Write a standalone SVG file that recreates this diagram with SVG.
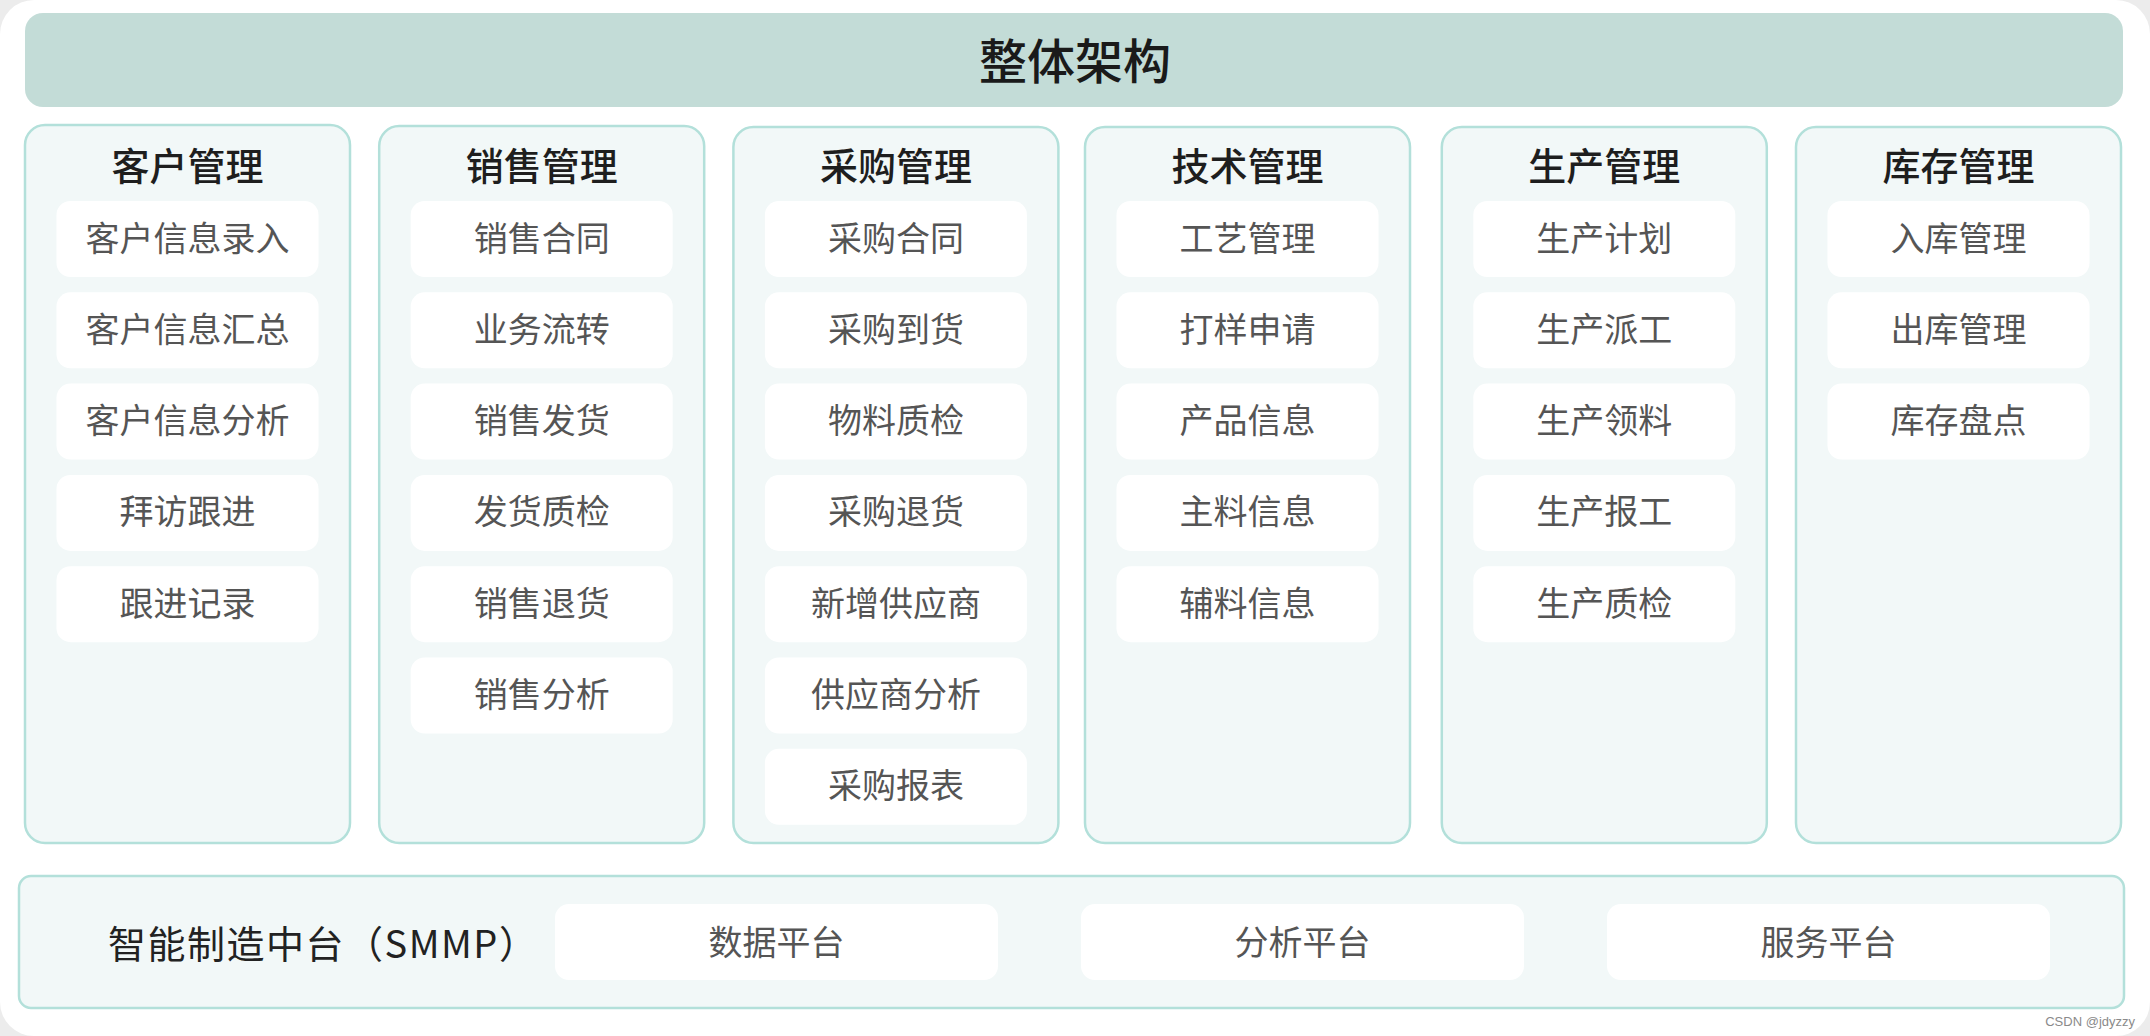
<svg xmlns="http://www.w3.org/2000/svg" width="2150" height="1036" viewBox="0 0 2150 1036">
<style>
text{font-family:"Noto Sans CJK SC","Noto Sans",sans-serif;text-anchor:middle;dominant-baseline:central}
.title{font-size:48px;font-weight:500;fill:#1a1a1a}
.panel{fill:#f2f8f8;stroke:#b3e0da;stroke-width:2.5}
.head{font-size:38px;font-weight:500;fill:#1e1e1e}
.item{fill:#ffffff}
.itxt{font-size:34px;fill:#555555}
.lbl{font-size:38px;fill:#222222;text-anchor:start;letter-spacing:1.5px}
.wm{font-family:"Liberation Sans",Arial,sans-serif;font-size:13px;fill:#8a8a8a;text-anchor:end}
</style>
<rect x="0" y="0" width="2150" height="1036" fill="#ececec"/>
<rect x="0" y="0" width="2150" height="1036" rx="34" fill="#ffffff"/>
<g id="banner">
<rect x="25" y="13" width="2098" height="94" rx="18" fill="#c3dcd7"/>
<text class="title" x="1075" y="58">整体架构</text>
</g>
<g id="connectors"></g>
<g id="customer">
<rect class="panel" x="25" y="125" width="325" height="718" rx="20"/>
<text class="head" x="187.5" y="163">客户管理</text>
<rect class="item" x="56.5" y="201" width="262" height="76" rx="14"/><text class="itxt" x="187.5" y="236">客户信息录入</text>
<rect class="item" x="56.5" y="292.3" width="262" height="76" rx="14"/><text class="itxt" x="187.5" y="327.3">客户信息汇总</text>
<rect class="item" x="56.5" y="383.6" width="262" height="76" rx="14"/><text class="itxt" x="187.5" y="418.6">客户信息分析</text>
<rect class="item" x="56.5" y="474.9" width="262" height="76" rx="14"/><text class="itxt" x="187.5" y="509.9">拜访跟进</text>
<rect class="item" x="56.5" y="566.2" width="262" height="76" rx="14"/><text class="itxt" x="187.5" y="601.2">跟进记录</text>
</g>
<g id="sales">
<rect class="panel" x="379.2" y="126" width="325" height="717" rx="20"/>
<text class="head" x="541.7" y="163">销售管理</text>
<rect class="item" x="410.7" y="201" width="262" height="76" rx="14"/><text class="itxt" x="541.7" y="236">销售合同</text>
<rect class="item" x="410.7" y="292.3" width="262" height="76" rx="14"/><text class="itxt" x="541.7" y="327.3">业务流转</text>
<rect class="item" x="410.7" y="383.6" width="262" height="76" rx="14"/><text class="itxt" x="541.7" y="418.6">销售发货</text>
<rect class="item" x="410.7" y="474.9" width="262" height="76" rx="14"/><text class="itxt" x="541.7" y="509.9">发货质检</text>
<rect class="item" x="410.7" y="566.2" width="262" height="76" rx="14"/><text class="itxt" x="541.7" y="601.2">销售退货</text>
<rect class="item" x="410.7" y="657.5" width="262" height="76" rx="14"/><text class="itxt" x="541.7" y="692.5">销售分析</text>
</g>
<g id="purchase">
<rect class="panel" x="733.4" y="127" width="325" height="716" rx="20"/>
<text class="head" x="895.9" y="163">采购管理</text>
<rect class="item" x="764.9" y="201" width="262" height="76" rx="14"/><text class="itxt" x="895.9" y="236">采购合同</text>
<rect class="item" x="764.9" y="292.3" width="262" height="76" rx="14"/><text class="itxt" x="895.9" y="327.3">采购到货</text>
<rect class="item" x="764.9" y="383.6" width="262" height="76" rx="14"/><text class="itxt" x="895.9" y="418.6">物料质检</text>
<rect class="item" x="764.9" y="474.9" width="262" height="76" rx="14"/><text class="itxt" x="895.9" y="509.9">采购退货</text>
<rect class="item" x="764.9" y="566.2" width="262" height="76" rx="14"/><text class="itxt" x="895.9" y="601.2">新增供应商</text>
<rect class="item" x="764.9" y="657.5" width="262" height="76" rx="14"/><text class="itxt" x="895.9" y="692.5">供应商分析</text>
<rect class="item" x="764.9" y="748.8" width="262" height="76" rx="14"/><text class="itxt" x="895.9" y="783.8">采购报表</text>
</g>
<g id="tech">
<rect class="panel" x="1085" y="127" width="325" height="716" rx="20"/>
<text class="head" x="1247.5" y="163">技术管理</text>
<rect class="item" x="1116.5" y="201" width="262" height="76" rx="14"/><text class="itxt" x="1247.5" y="236">工艺管理</text>
<rect class="item" x="1116.5" y="292.3" width="262" height="76" rx="14"/><text class="itxt" x="1247.5" y="327.3">打样申请</text>
<rect class="item" x="1116.5" y="383.6" width="262" height="76" rx="14"/><text class="itxt" x="1247.5" y="418.6">产品信息</text>
<rect class="item" x="1116.5" y="474.9" width="262" height="76" rx="14"/><text class="itxt" x="1247.5" y="509.9">主料信息</text>
<rect class="item" x="1116.5" y="566.2" width="262" height="76" rx="14"/><text class="itxt" x="1247.5" y="601.2">辅料信息</text>
</g>
<g id="production">
<rect class="panel" x="1441.8" y="127" width="325" height="716" rx="20"/>
<text class="head" x="1604.3" y="163">生产管理</text>
<rect class="item" x="1473.3" y="201" width="262" height="76" rx="14"/><text class="itxt" x="1604.3" y="236">生产计划</text>
<rect class="item" x="1473.3" y="292.3" width="262" height="76" rx="14"/><text class="itxt" x="1604.3" y="327.3">生产派工</text>
<rect class="item" x="1473.3" y="383.6" width="262" height="76" rx="14"/><text class="itxt" x="1604.3" y="418.6">生产领料</text>
<rect class="item" x="1473.3" y="474.9" width="262" height="76" rx="14"/><text class="itxt" x="1604.3" y="509.9">生产报工</text>
<rect class="item" x="1473.3" y="566.2" width="262" height="76" rx="14"/><text class="itxt" x="1604.3" y="601.2">生产质检</text>
</g>
<g id="inventory">
<rect class="panel" x="1796" y="127" width="325" height="716" rx="20"/>
<text class="head" x="1958.5" y="163">库存管理</text>
<rect class="item" x="1827.5" y="201" width="262" height="76" rx="14"/><text class="itxt" x="1958.5" y="236">入库管理</text>
<rect class="item" x="1827.5" y="292.3" width="262" height="76" rx="14"/><text class="itxt" x="1958.5" y="327.3">出库管理</text>
<rect class="item" x="1827.5" y="383.6" width="262" height="76" rx="14"/><text class="itxt" x="1958.5" y="418.6">库存盘点</text>
</g>
<g id="smmp">
<rect class="panel" x="19" y="876" width="2105" height="132" rx="12"/>
<text class="lbl" x="108" y="941">智能制造中台（SMMP）</text>
<rect class="item" x="555" y="904" width="443" height="76" rx="14"/><text class="itxt" x="776.5" y="940">数据平台</text>
<rect class="item" x="1081" y="904" width="443" height="76" rx="14"/><text class="itxt" x="1302.5" y="940">分析平台</text>
<rect class="item" x="1607" y="904" width="443" height="76" rx="14"/><text class="itxt" x="1828.5" y="940">服务平台</text>
</g>
<text class="wm" x="2135" y="1021">CSDN @jdyzzy</text>
</svg>
